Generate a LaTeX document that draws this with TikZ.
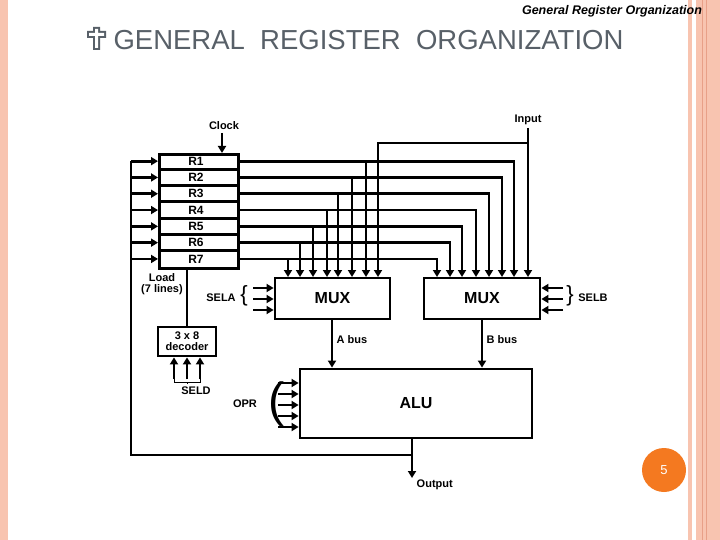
\documentclass[tikz,border=0pt]{standalone}
\usepackage{fontspec}
\setmainfont{Liberation Sans}
\usepackage{tikz}
\usetikzlibrary{arrows.meta,decorations.pathreplacing}
\definecolor{peach}{RGB}{248,196,176}
\definecolor{peachdark}{RGB}{232,160,136}
\definecolor{slidenum}{RGB}{244,121,32}
\definecolor{titlegray}{RGB}{88,96,104}
\newcommand{\RH}[0]{16.3}
\tikzset{
  wire/.style={line width=2.8pt},
  bus/.style={wire, -{Triangle[length=7pt,width=8pt]}},
  blk/.style={draw, line width=2.8pt, fill=white},
  lbl/.style={font=\bfseries\fontsize{11}{12}\selectfont},
}
\begin{document}
\begin{tikzpicture}[x=1pt, y=-1pt]
  \useasboundingbox (0,0) rectangle (720,540);

  %% slide decoration
  \fill[peach] (0,0) rectangle (8,540);
  \fill[peach] (688,0) rectangle (692,540);
  \fill[peach] (696,0) rectangle (720,540);
  \draw[peachdark, line width=0.6pt] (702,0) -- (702,540) (706,0) -- (706,540);
  \node (hdr) at (612,11) {\bfseries\itshape\fontsize{12.5}{14}\selectfont General Register Organization};
  \fill[titlegray] (93,27) rectangle (100,50) (87,31) rectangle (106,38);
  \fill[white] (95,29) rectangle (98,48) (89,33) rectangle (104,36);
  \node[anchor=west, text=titlegray] (title) at (110,40) {\fontsize{27.5}{30}\selectfont GENERAL\ \ REGISTER\ \ ORGANIZATION};
  \node[circle, fill=slidenum, minimum size=44pt, inner sep=0pt, text=white] (num) at (664,470) {\fontsize{13}{14}\selectfont 5};

  %% register file
  \node[blk, minimum width=79pt, minimum height=114pt, inner sep=0pt, anchor=north west] (regs) at (158,153) {};
  \foreach \i in {1,...,7} {
    \node[lbl, font=\bfseries\fontsize{12}{13}\selectfont] (r\i) at (196,{153+\RH*(\i-0.5)}) {R\i};
    \coordinate (l\i) at (131,{153+\RH*(\i-0.5)});
    \coordinate (o\i) at (237,{153+\RH*(\i-0.5)});
    \draw[bus] (l\i) -- (158,{153+\RH*(\i-0.5)});
  }
  \foreach \i in {1,...,6}
    \draw[wire] (158,{153+\RH*\i}) -- (237,{153+\RH*\i});

  \node[lbl] (clk) at (224,126) {Clock};
  \draw[bus] (222,133) -- (regs.north -| 222,0);

  \node[lbl, align=center, font=\bfseries\fontsize{11}{11}\selectfont] (load) at (162,284) {Load\\(7 lines)};

  %% decoder
  \node[blk, minimum width=58pt, minimum height=29pt, inner sep=0pt, align=center, font=\bfseries\fontsize{11}{11}\selectfont] (dec) at (187,341.5) {3 x 8\\decoder};
  \draw[wire] (regs.south -| dec) -- (dec.north);
  \foreach \x in {-13,0,13}
    \draw[bus] ([xshift=\x pt]dec.south) ++(0,22) -- ([xshift=\x pt]dec.south);
  \draw[line width=1pt] (174,379) -- (174,382) -- (200,382) -- (200,379) (187,382) -- (187,384);
  \node[lbl] (seld) at (196,391) {SELD};

  %% multiplexers
  \node[blk, minimum width=115pt, minimum height=41pt] (muxa) at (332.5,298.5) {\bfseries\fontsize{16}{17}\selectfont MUX};
  \node[blk, minimum width=116pt, minimum height=41pt] (muxb) at (482,298.5) {\bfseries\fontsize{16}{17}\selectfont MUX};

  \foreach \i/\xa/\xb in {1/366/514, 2/352/502, 3/338/489, 4/327/476, 5/313/462, 6/300/450, 7/288/437} {
    \draw[bus] (o\i) -| (\xa,277);
    \draw[bus] (o\i) -| (\xb,277);
  }
  \node[lbl] (inp) at (528,120) {Input};
  \draw[bus] (528,128) -- (528,277);
  \draw[bus] (528,143) -| (378,277);

  \node[lbl] (sela) at (221,298) {SELA};
  \node (bra) at (244,296) {\fontsize{22}{22}\selectfont\{};
  \foreach \y in {288,299,310}
    \draw[bus] (253,\y) -- (muxa.west |- 0,\y);
  \node[lbl] (selb) at (593,298) {SELB};
  \node (brb) at (570,296) {\fontsize{22}{22}\selectfont\}};
  \foreach \y in {288,299,310}
    \draw[bus] (563,\y) -- (muxb.east |- 0,\y);

  %% ALU
  \node[blk, minimum width=232pt, minimum height=69pt] (alu) at (416,403.5) {\bfseries\fontsize{16}{17}\selectfont ALU};
  \draw[bus] (muxa.south -| 332,0) -- (alu.north -| 332,0) node[pos=0.4, right, lbl] (abus) {A bus};
  \draw[bus] (muxb.south -| 482,0) -- (alu.north -| 482,0) node[pos=0.4, right, lbl] (bbus) {B bus};
  \node[lbl] (opr) at (245,404) {OPR};
  \node (par) at (276,404) {\fontsize{48}{48}\selectfont (};
  \foreach \y in {383,394,405,416,427}
    \draw[bus] (278,\y) -- (alu.west |- 0,\y);

  %% output and load feedback
  \coordinate (fb) at (412,455);
  \draw[bus] (alu.south -| fb) -- (412,478) node[right, lbl, yshift=-7pt] (outp) {Output};
  \draw[wire] (fb) -| (l1);
\end{tikzpicture}
\end{document}
